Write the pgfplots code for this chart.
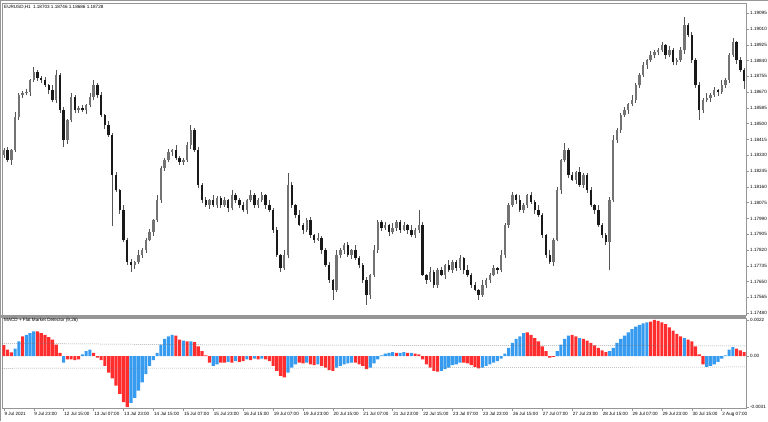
\documentclass[border=0pt]{standalone}
\usepackage{pgfplots}
\pgfplotsset{compat=1.18}
\usepackage{pgfplotstable}
\usepackage{fontspec}
\setmainfont{Liberation Sans}

\definecolor{frame}{RGB}{150,150,150}
\definecolor{bullc}{RGB}{115,115,115}
\definecolor{bearc}{RGB}{25,25,25}
\definecolor{wick}{RGB}{85,85,85}
\definecolor{hred}{RGB}{255,45,45}
\definecolor{hblue}{RGB}{55,155,240}
\newcommand\tf{\fontsize{4.6}{5}\selectfont}

% EURUSD H1, two hours per row: bar index, open, high, low, close
\pgfplotstableread{
n o h l c
0 1.18330 1.18368 1.18316 1.18358
2 1.18358 1.18376 1.18296 1.18304
4 1.18304 1.18364 1.18277 1.18358
6 1.18358 1.18561 1.18347 1.18536
8 1.18536 1.18666 1.18520 1.18654
10 1.18654 1.18675 1.18640 1.18665
12 1.18665 1.18688 1.18657 1.18670
14 1.18670 1.18741 1.18650 1.18735
16 1.18735 1.18803 1.18724 1.18778
18 1.18778 1.18790 1.18729 1.18745
20 1.18745 1.18755 1.18721 1.18735
22 1.18735 1.18753 1.18700 1.18708
24 1.18708 1.18714 1.18661 1.18681
26 1.18681 1.18706 1.18616 1.18627
28 1.18627 1.18788 1.18611 1.18762
30 1.18762 1.18772 1.18559 1.18573
32 1.18573 1.18591 1.18374 1.18412
34 1.18412 1.18525 1.18392 1.18519
36 1.18519 1.18668 1.18508 1.18643
38 1.18643 1.18655 1.18557 1.18573
40 1.18573 1.18594 1.18559 1.18584
42 1.18584 1.18602 1.18565 1.18573
44 1.18573 1.18606 1.18553 1.18600
46 1.18600 1.18668 1.18589 1.18643
48 1.18643 1.18735 1.18627 1.18708
50 1.18708 1.18718 1.18640 1.18654
52 1.18654 1.18672 1.18538 1.18546
54 1.18546 1.18552 1.18472 1.18492
56 1.18492 1.18517 1.18428 1.18439
58 1.18439 1.18451 1.17950 1.18224
60 1.18224 1.18242 1.18135 1.18143
62 1.18143 1.18149 1.18015 1.18035
64 1.18035 1.18060 1.17863 1.17874
66 1.17874 1.17886 1.17739 1.17755
68 1.17755 1.17773 1.17702 1.17739
70 1.17739 1.17761 1.17719 1.17755
72 1.17755 1.17818 1.17744 1.17793
74 1.17793 1.17832 1.17777 1.17820
76 1.17820 1.17884 1.17806 1.17874
78 1.17874 1.17935 1.17866 1.17917
80 1.17917 1.17987 1.17897 1.17981
82 1.17981 1.18114 1.17970 1.18089
84 1.18089 1.18273 1.18073 1.18261
86 1.18261 1.18314 1.18247 1.18304
88 1.18304 1.18365 1.18296 1.18347
90 1.18347 1.18364 1.18327 1.18358
92 1.18358 1.18383 1.18304 1.18315
94 1.18315 1.18327 1.18277 1.18293
96 1.18293 1.18314 1.18279 1.18304
98 1.18304 1.18403 1.18296 1.18385
100 1.18385 1.18492 1.18365 1.18466
102 1.18466 1.18478 1.18347 1.18358
104 1.18358 1.18374 1.18154 1.18170
106 1.18170 1.18180 1.18075 1.18089
108 1.18089 1.18107 1.18054 1.18062
110 1.18062 1.18095 1.18042 1.18089
112 1.18089 1.18114 1.18051 1.18062
114 1.18062 1.18112 1.18046 1.18100
116 1.18100 1.18110 1.18048 1.18062
118 1.18062 1.18107 1.18054 1.18089
120 1.18089 1.18095 1.18026 1.18046
122 1.18046 1.18141 1.18035 1.18116
124 1.18116 1.18128 1.18073 1.18089
126 1.18089 1.18099 1.18048 1.18062
128 1.18062 1.18080 1.18027 1.18035
130 1.18035 1.18095 1.18015 1.18089
132 1.18089 1.18141 1.18078 1.18116
134 1.18116 1.18128 1.18046 1.18062
136 1.18062 1.18099 1.18048 1.18089
138 1.18089 1.18134 1.18081 1.18116
140 1.18116 1.18122 1.18042 1.18062
142 1.18062 1.18087 1.18024 1.18035
144 1.18035 1.18047 1.17912 1.17928
146 1.17928 1.17946 1.17785 1.17793
148 1.17793 1.17799 1.17703 1.17723
150 1.17723 1.17818 1.17712 1.17793
152 1.17793 1.18234 1.17777 1.18170
154 1.18170 1.18188 1.18048 1.18062
156 1.18062 1.18068 1.17994 1.18008
158 1.18008 1.18033 1.17947 1.17955
160 1.17955 1.17967 1.17908 1.17928
162 1.17928 1.17991 1.17917 1.17981
164 1.17981 1.17999 1.17885 1.17901
166 1.17901 1.17907 1.17860 1.17874
168 1.17874 1.17910 1.17866 1.17885
170 1.17885 1.17897 1.17800 1.17820
172 1.17820 1.17830 1.17728 1.17739
174 1.17739 1.17757 1.17643 1.17659
176 1.17659 1.17665 1.17551 1.17605
178 1.17605 1.17818 1.17594 1.17793
180 1.17793 1.17832 1.17777 1.17820
182 1.17820 1.17857 1.17800 1.17847
184 1.17847 1.17865 1.17785 1.17793
186 1.17793 1.17826 1.17773 1.17820
188 1.17820 1.17845 1.17766 1.17777
190 1.17777 1.17789 1.17723 1.17739
192 1.17739 1.17749 1.17645 1.17659
194 1.17659 1.17677 1.17524 1.17578
196 1.17578 1.17692 1.17558 1.17686
198 1.17686 1.17845 1.17675 1.17820
200 1.17820 1.17983 1.17804 1.17971
202 1.17971 1.17981 1.17924 1.17938
204 1.17938 1.17973 1.17930 1.17955
206 1.17955 1.17961 1.17897 1.17917
208 1.17917 1.17963 1.17906 1.17938
210 1.17938 1.17983 1.17922 1.17971
212 1.17971 1.17981 1.17914 1.17928
214 1.17928 1.17973 1.17920 1.17955
216 1.17955 1.17961 1.17908 1.17928
218 1.17928 1.17953 1.17890 1.17901
220 1.17901 1.17940 1.17885 1.17928
222 1.17928 1.18035 1.17914 1.17955
224 1.17955 1.17973 1.17678 1.17686
226 1.17686 1.17692 1.17639 1.17659
228 1.17659 1.17727 1.17648 1.17702
230 1.17702 1.17714 1.17616 1.17632
232 1.17632 1.17722 1.17618 1.17712
234 1.17712 1.17730 1.17678 1.17686
236 1.17686 1.17745 1.17666 1.17739
238 1.17739 1.17764 1.17701 1.17712
240 1.17712 1.17767 1.17696 1.17755
242 1.17755 1.17765 1.17709 1.17723
244 1.17723 1.17795 1.17715 1.17777
246 1.17777 1.17783 1.17692 1.17712
248 1.17712 1.17737 1.17675 1.17686
250 1.17686 1.17698 1.17616 1.17632
252 1.17632 1.17650 1.17597 1.17605
254 1.17605 1.17611 1.17551 1.17578
256 1.17578 1.17657 1.17567 1.17632
258 1.17632 1.17671 1.17616 1.17659
260 1.17659 1.17696 1.17645 1.17686
262 1.17686 1.17741 1.17678 1.17723
264 1.17723 1.17729 1.17692 1.17712
266 1.17712 1.17818 1.17701 1.17793
268 1.17793 1.17967 1.17777 1.17955
270 1.17955 1.18072 1.17941 1.18062
272 1.18062 1.18134 1.18054 1.18116
274 1.18116 1.18122 1.18069 1.18089
276 1.18089 1.18114 1.18024 1.18035
278 1.18035 1.18074 1.18019 1.18062
280 1.18062 1.18122 1.18048 1.18116
282 1.18116 1.18134 1.18070 1.18078
284 1.18078 1.18088 1.18015 1.18035
286 1.18035 1.18060 1.17997 1.18008
288 1.18008 1.18020 1.17885 1.17901
290 1.17901 1.17907 1.17779 1.17793
292 1.17793 1.17818 1.17744 1.17755
294 1.17755 1.17886 1.17735 1.17874
296 1.17874 1.18161 1.17866 1.18143
298 1.18143 1.18310 1.18123 1.18304
300 1.18304 1.18396 1.18293 1.18358
302 1.18358 1.18370 1.18208 1.18224
304 1.18224 1.18242 1.18189 1.18197
306 1.18197 1.18246 1.18177 1.18240
308 1.18240 1.18265 1.18159 1.18170
310 1.18170 1.18236 1.18154 1.18224
312 1.18224 1.18234 1.18129 1.18143
314 1.18143 1.18161 1.18054 1.18062
316 1.18062 1.18068 1.18015 1.18035
318 1.18035 1.18060 1.17944 1.17955
320 1.17955 1.17967 1.17885 1.17901
322 1.17901 1.17911 1.17849 1.17863
324 1.17863 1.18107 1.17712 1.18089
326 1.18089 1.18437 1.18078 1.18412
328 1.18412 1.18478 1.18396 1.18466
330 1.18466 1.18556 1.18452 1.18546
332 1.18546 1.18591 1.18538 1.18573
334 1.18573 1.18612 1.18553 1.18606
336 1.18606 1.18652 1.18595 1.18627
338 1.18627 1.18720 1.18611 1.18708
340 1.18708 1.18772 1.18694 1.18762
342 1.18762 1.18833 1.18754 1.18815
344 1.18815 1.18848 1.18795 1.18842
346 1.18842 1.18894 1.18831 1.18869
348 1.18869 1.18897 1.18853 1.18885
350 1.18885 1.18906 1.18871 1.18896
352 1.18896 1.18941 1.18888 1.18923
354 1.18923 1.18929 1.18849 1.18869
356 1.18869 1.18921 1.18858 1.18896
358 1.18896 1.18908 1.18815 1.18831
360 1.18831 1.18852 1.18817 1.18842
362 1.18842 1.18914 1.18834 1.18896
364 1.18896 1.19073 1.18876 1.19031
366 1.19031 1.19043 1.18966 1.18977
368 1.18977 1.18993 1.18826 1.18842
370 1.18842 1.18852 1.18694 1.18708
372 1.18708 1.18726 1.18519 1.18573
374 1.18573 1.18639 1.18557 1.18627
376 1.18627 1.18663 1.18616 1.18638
378 1.18638 1.18666 1.18618 1.18654
380 1.18654 1.18699 1.18646 1.18681
382 1.18681 1.18687 1.18650 1.18670
384 1.18670 1.18733 1.18659 1.18708
386 1.18708 1.18747 1.18692 1.18735
388 1.18735 1.18879 1.18721 1.18869
390 1.18869 1.18961 1.18861 1.18939
392 1.18939 1.18945 1.18822 1.18842
394 1.18842 1.18860 1.18780 1.18788
396 1.18788 1.18800 1.18686 1.18729
}\candles

% histogram: bar index, value, colour (0 red, 1 blue)
\pgfplotstableread{
n v b
0 0.00067 0
2 0.00040 0
4 0.00022 0
6 0.00045 1
8 0.00090 1
10 0.00120 0
12 0.00130 1
14 0.00140 1
16 0.00150 1
18 0.00150 0
20 0.00140 0
22 0.00130 0
24 0.00115 0
26 0.00100 0
28 0.00070 0
30 0.00020 0
32 -0.00040 1
34 -0.00020 0
36 -0.00020 0
38 -0.00025 0
40 -0.00020 0
42 0.00010 1
44 0.00030 1
46 0.00040 1
48 0.00020 0
50 -0.00010 0
52 -0.00025 0
54 -0.00060 0
56 -0.00100 0
58 -0.00135 0
60 -0.00180 0
62 -0.00230 0
64 -0.00280 0
66 -0.00310 0
68 -0.00285 1
70 -0.00255 1
72 -0.00210 1
74 -0.00160 1
76 -0.00110 1
78 -0.00060 1
80 -0.00025 1
82 0.00020 1
84 0.00070 1
86 0.00105 1
88 0.00120 1
90 0.00130 1
92 0.00125 0
94 0.00100 0
96 0.00095 1
98 0.00090 0
100 0.00090 1
102 0.00085 0
104 0.00060 0
106 0.00030 0
108 0.00005 0
110 -0.00040 0
112 -0.00060 1
114 -0.00050 1
116 -0.00040 0
118 -0.00040 0
120 -0.00035 1
122 -0.00040 0
124 -0.00030 1
126 -0.00035 0
128 -0.00030 0
130 -0.00020 1
132 -0.00025 0
134 -0.00015 1
136 -0.00020 0
138 -0.00015 1
140 -0.00020 0
142 -0.00030 0
144 -0.00060 0
146 -0.00090 0
148 -0.00120 0
150 -0.00130 0
152 -0.00100 1
154 -0.00070 1
156 -0.00050 1
158 -0.00040 0
160 -0.00045 0
162 -0.00040 1
164 -0.00050 0
166 -0.00055 0
168 -0.00050 1
170 -0.00060 0
172 -0.00070 0
174 -0.00085 0
176 -0.00090 0
178 -0.00070 1
180 -0.00060 1
182 -0.00050 1
184 -0.00045 1
186 -0.00040 1
188 -0.00040 0
190 -0.00050 0
192 -0.00060 0
194 -0.00080 0
196 -0.00070 1
198 -0.00045 1
200 -0.00020 1
202 0.00005 1
204 0.00015 1
206 0.00020 1
208 0.00025 1
210 0.00020 0
212 0.00020 1
214 0.00025 1
216 0.00020 0
218 0.00020 1
220 0.00015 0
222 0.00010 0
224 -0.00020 0
226 -0.00050 0
228 -0.00070 0
230 -0.00090 0
232 -0.00095 0
234 -0.00090 1
236 -0.00080 1
238 -0.00070 1
240 -0.00055 1
242 -0.00050 1
244 -0.00040 1
246 -0.00040 0
248 -0.00045 0
250 -0.00055 0
252 -0.00065 0
254 -0.00075 0
256 -0.00070 1
258 -0.00060 1
260 -0.00050 1
262 -0.00040 1
264 -0.00030 1
266 -0.00015 1
268 0.00015 1
270 0.00050 1
272 0.00080 1
274 0.00105 1
276 0.00120 1
278 0.00140 1
280 0.00145 0
282 0.00130 0
284 0.00110 0
286 0.00090 0
288 0.00060 0
290 0.00030 0
292 -0.00010 0
294 -0.00005 0
296 0.00030 1
298 0.00070 1
300 0.00105 1
302 0.00125 1
304 0.00130 0
306 0.00120 0
308 0.00110 1
310 0.00105 0
312 0.00095 0
314 0.00080 0
316 0.00065 0
318 0.00050 0
320 0.00035 0
322 0.00025 0
324 0.00030 1
326 0.00050 1
328 0.00080 1
330 0.00105 1
332 0.00125 1
334 0.00145 1
336 0.00165 1
338 0.00180 1
340 0.00190 1
342 0.00200 1
344 0.00205 1
346 0.00210 0
348 0.00220 0
350 0.00215 0
352 0.00205 0
354 0.00195 0
356 0.00175 0
358 0.00155 0
360 0.00135 0
362 0.00120 0
364 0.00110 1
366 0.00100 0
368 0.00090 0
370 0.00060 0
372 0.00010 0
374 -0.00050 0
376 -0.00065 1
378 -0.00060 1
380 -0.00050 1
382 -0.00035 1
384 -0.00015 1
386 0.00005 1
388 0.00040 1
390 0.00055 1
392 0.00045 0
394 0.00035 0
396 0.00025 0
}\macd

\pgfplotsset{
  mt/.style={
    scale only axis, width=744pt,
    xmin=-1, xmax=397,
    axis line style={draw=frame, line width=0.8pt},
    tick style={draw=frame, line width=0.5pt},
    tick align=outside, major tick length=3pt,
    ytick pos=right,
    ticklabel style={font=\tf, text=black},
    yticklabel style={inner sep=1pt},
    /pgf/number format/assume math mode=true,
    scaled y ticks=false,
  }
}

\begin{document}
\begin{tikzpicture}[x=1pt,y=1pt]
\path[use as bounding box] (0,0) rectangle (768,421);

\begin{axis}[mt,
  at={(2pt,106pt)}, anchor=south west, height=312pt,
  ymin=1.17470, ymax=1.19150,
  xtick=\empty,
  ytick={1.17480,1.17565,1.17650,1.17735,1.17820,1.17905,1.17990,1.18075,1.18160,1.18245,
         1.18330,1.18415,1.18500,1.18585,1.18670,1.18755,1.18840,1.18925,1.19010,1.19095},
  yticklabel style={/pgf/number format/fixed, /pgf/number format/fixed zerofill,
                    /pgf/number format/precision=5},
]
% wicks
\addplot[draw=none, mark=none,
  error bars/.cd, y dir=plus, y explicit, error mark=none,
  error bar style={line width=0.7pt, draw=wick}]
  table[x=n, y=l, y error plus expr=\thisrow{h}-\thisrow{l}] {\candles};
% bull bodies
\addplot[draw=none, mark=none,
  restrict expr to domain={\thisrow{c}-\thisrow{o}}{0:1},
  error bars/.cd, y dir=plus, y explicit, error mark=none,
  error bar style={line width=2.4pt, draw=bullc}]
  table[x=n, y=o, y error plus expr=\thisrow{c}-\thisrow{o}] {\candles};
% bear bodies
\addplot[draw=none, mark=none,
  restrict expr to domain={\thisrow{c}-\thisrow{o}}{-1:0},
  error bars/.cd, y dir=plus, y explicit, error mark=none,
  error bar style={line width=2.4pt, draw=bearc}]
  table[x=n, y=c, y error plus expr=\thisrow{o}-\thisrow{c}] {\candles};
\end{axis}

\begin{axis}[mt,
  at={(2pt,13pt)}, anchor=south west, height=90pt,
  ymin=-0.00316, ymax=0.00232,
  xtick={0,16,...,384}, xtick pos=bottom,
  xticklabels={9 Jul 2021, 9 Jul 23:00, 12 Jul 15:00, 13 Jul 07:00, 13 Jul 23:00,
    14 Jul 15:00, 15 Jul 07:00, 15 Jul 23:00, 16 Jul 15:00, 19 Jul 07:00,
    19 Jul 23:00, 20 Jul 15:00, 21 Jul 07:00, 21 Jul 23:00, 22 Jul 15:00,
    23 Jul 07:00, 23 Jul 23:00, 26 Jul 15:00, 27 Jul 07:00, 27 Jul 23:00,
    28 Jul 15:00, 29 Jul 07:00, 29 Jul 23:00, 30 Jul 15:00, 2 Aug 07:00},
  xticklabel style={anchor=north west, inner sep=1pt, xshift=-0.5pt},
  ytick={-0.0031,0,0.0022},
  yticklabels={-0.0031,0.00,0.0022},
]
\addplot[ybar, bar width=3.1pt, bar shift=0pt, draw=none, fill=hred,
  restrict expr to domain={\thisrow{b}}{-0.5:0.5}]
  table[x=n, y=v] {\macd};
\addplot[ybar, bar width=3.1pt, bar shift=0pt, draw=none, fill=hblue,
  restrict expr to domain={\thisrow{b}}{0.5:1.5}]
  table[x=n, y=v] {\macd};
\addplot[draw=black!55, line width=0.5pt, dash pattern=on 0.6pt off 1.4pt]
  coordinates {(-1,0.00078) (120,0.00068) (397,0.00062)};
\addplot[draw=black!55, line width=0.5pt, dash pattern=on 0.6pt off 1.4pt]
  coordinates {(-1,-0.00074) (200,-0.00072) (397,-0.00066)};
\end{axis}

\fill[frame] (0,103.4) rectangle (746.4,106.4);
\draw[frame, line width=0.8pt] (0.4,0) -- (0.4,421);
\draw[frame, line width=0.8pt] (0,420.6) -- (768,420.6);
\node[anchor=west, font=\tf, inner sep=0] at (4,414)
  {EURUSD,H1\enspace 1.18703 1.18746 1.18686 1.18728};
\node[anchor=west, font=\tf, inner sep=0] at (4,100.5)
  {MACD + Flat Market Detector (9,26)};
\end{tikzpicture}
\end{document}
